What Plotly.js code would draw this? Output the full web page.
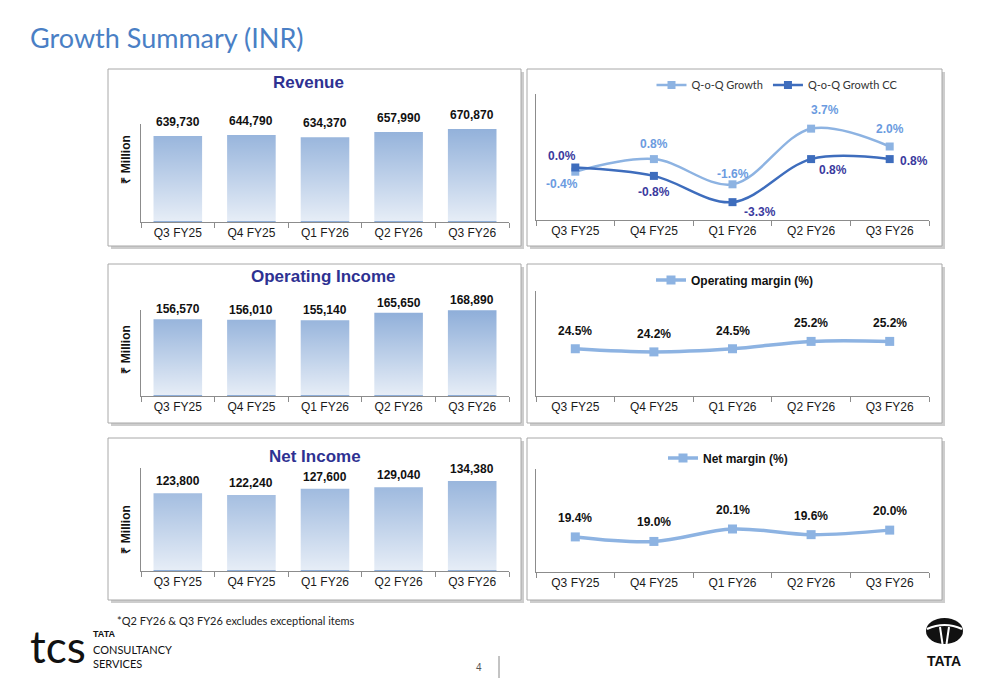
<!DOCTYPE html>
<html><head><meta charset="utf-8">
<script src="https://cdn.plot.ly/plotly-3.0.1.min.js"></script>
<style>html,body{margin:0;padding:0;background:#fff}#chart{width:1000px;height:685px}</style>
</head><body><div id="chart"></div>
<script>
// ---- data ----
const quarters = ['Q3 FY25','Q4 FY25','Q1 FY26','Q2 FY26','Q3 FY26'];
const revenue = [639730, 644790, 634370, 657990, 670870];
const operatingIncome = [156570, 156010, 155140, 165650, 168890];
const netIncome = [123800, 122240, 127600, 129040, 134380];
const qoqGrowth = [-0.4, 0.8, -1.6, 3.7, 2.0];
const qoqGrowthCC = [0.0, -0.8, -3.3, 0.8, 0.8];
const operatingMargin = [24.5, 24.2, 24.5, 25.2, 25.2];
const netMargin = [19.4, 19.0, 20.1, 19.6, 20.0];

// ---- helpers (pixel -> paper) ----
const W = 1000, H = 685;
const px = x => x / W;
const py = y => 1 - y / H;
const ARIAL = 'Liberation Sans, Arial, sans-serif';
const CAL = 'Lato, Open Sans, sans-serif';
const BAR = '#8eaed9', LIGHT = '#8db3e2', DARK = '#3e6dbd';
const LIGHTTXT = '#6b9be0', DARKTXT = '#3a3a9e', TITLE = '#2e3192';

const xL = [px(141), px(509)], xR = [px(536), px(929)];

function xax(domain, anchor) {
  return {domain, anchor, type: 'category', range: [-0.5, quarters.length - 0.5], autorange: false,
    showline: true, linecolor: '#8c8c8c', linewidth: 1,
    ticks: 'outside', tickson: 'boundaries', ticklen: 5, tickcolor: '#8c8c8c',
    showgrid: false, zeroline: false, fixedrange: true,
    tickfont: {family: ARIAL, size: 12, color: '#1a1a1a'}};
}
function yax(domain, anchor, range) {
  return {domain, anchor, range, showline: true, linecolor: '#8c8c8c', linewidth: 1,
    showticklabels: false, ticks: '', showgrid: false, zeroline: false, fixedrange: true};
}

const traces = [
  {type: 'bar', x: quarters, y: revenue, xaxis: 'x', yaxis: 'y', marker: {color: BAR}, showlegend: false, hoverinfo: 'skip'},
  {type: 'scatter', mode: 'lines+markers', name: 'Q-o-Q Growth', x: quarters, y: qoqGrowth, xaxis: 'x2', yaxis: 'y2',
   line: {color: LIGHT, width: 2.5, shape: 'spline', smoothing: 1}, marker: {symbol: 'square', size: 8, color: LIGHT},
   legend: 'legend', cliponaxis: false},
  {type: 'scatter', mode: 'lines+markers', name: 'Q-o-Q Growth CC', x: quarters, y: qoqGrowthCC, xaxis: 'x2', yaxis: 'y2',
   line: {color: DARK, width: 2.5, shape: 'spline', smoothing: 1}, marker: {symbol: 'square', size: 8, color: DARK},
   legend: 'legend', cliponaxis: false},
  {type: 'bar', x: quarters, y: operatingIncome, xaxis: 'x3', yaxis: 'y3', marker: {color: BAR}, showlegend: false, hoverinfo: 'skip'},
  {type: 'scatter', mode: 'lines+markers', name: 'Operating margin (%)', x: quarters, y: operatingMargin, xaxis: 'x4', yaxis: 'y4',
   line: {color: LIGHT, width: 3.5, shape: 'spline', smoothing: 1}, marker: {symbol: 'square', size: 9, color: LIGHT},
   legend: 'legend2', cliponaxis: false},
  {type: 'bar', x: quarters, y: netIncome, xaxis: 'x5', yaxis: 'y5', marker: {color: BAR}, showlegend: false, hoverinfo: 'skip'},
  {type: 'scatter', mode: 'lines+markers', name: 'Net margin (%)', x: quarters, y: netMargin, xaxis: 'x6', yaxis: 'y6',
   line: {color: LIGHT, width: 3.5, shape: 'spline', smoothing: 1}, marker: {symbol: 'square', size: 9, color: LIGHT},
   legend: 'legend3', cliponaxis: false}
];

// ---- annotations ----
const ann = [];
const fmt = v => v.toLocaleString('en-US');
// page title
ann.push({xref: 'paper', yref: 'paper', x: px(28), y: py(38), xanchor: 'left', yanchor: 'middle', showarrow: false,
  text: 'Growth Summary (INR)', font: {family: CAL, size: 27, color: '#4a7fc5'}});
// panel titles
[['Revenue', 308, 83], ['Operating Income', 323, 277], ['Net Income', 315, 456]].forEach(t => ann.push({
  xref: 'paper', yref: 'paper', x: px(t[1]), y: py(t[2]), xanchor: 'center', yanchor: 'middle', showarrow: false,
  text: t[0], font: {family: ARIAL, size: 17, color: TITLE, weight: 'bold'}}));
// y-axis titles
[160, 350, 530].forEach(c => ann.push({xref: 'paper', yref: 'paper', x: px(125.5), y: py(c), xanchor: 'center', yanchor: 'middle',
  showarrow: false, textangle: -90, text: '₹ Million', font: {family: ARIAL, size: 12, color: '#111', weight: 'bold'}}));
// bar value labels
[[revenue, 'x', 'y', 14], [operatingIncome, 'x3', 'y3', 10], [netIncome, 'x5', 'y5', 12]].forEach(s =>
  s[0].forEach((v, i) => ann.push({xref: s[1], yref: s[2], x: quarters[i], y: v, showarrow: false, yshift: s[3],
    text: fmt(v), font: {family: ARIAL, size: 12, color: '#111', weight: 'bold'}})));
// Q-o-Q labels
const lightOff = [[-13, -12], [0, 15], [0, 10], [14, 19], [0, 18]];
const darkOff = [[-13, 12], [0, -16], [27, -10], [22, -11], [24, -2]];
qoqGrowth.forEach((v, i) => ann.push({xref: 'x2', yref: 'y2', x: quarters[i], y: v, showarrow: false,
  xshift: lightOff[i][0], yshift: lightOff[i][1], text: v.toFixed(1) + '%',
  font: {family: ARIAL, size: 12, color: LIGHTTXT, weight: 'bold'}}));
qoqGrowthCC.forEach((v, i) => ann.push({xref: 'x2', yref: 'y2', x: quarters[i], y: v, showarrow: false,
  xshift: darkOff[i][0], yshift: darkOff[i][1], text: v.toFixed(1) + '%',
  font: {family: ARIAL, size: 12, color: DARKTXT, weight: 'bold'}}));
operatingMargin.forEach((v, i) => ann.push({xref: 'x4', yref: 'y4', x: quarters[i], y: v, showarrow: false,
  yshift: 18, text: v.toFixed(1) + '%', font: {family: ARIAL, size: 12, color: '#111', weight: 'bold'}}));
netMargin.forEach((v, i) => ann.push({xref: 'x6', yref: 'y6', x: quarters[i], y: v, showarrow: false,
  yshift: 19, text: v.toFixed(1) + '%', font: {family: ARIAL, size: 12, color: '#111', weight: 'bold'}}));
// footnote & logos
ann.push({xref: 'paper', yref: 'paper', x: px(115), y: py(620), xanchor: 'left', yanchor: 'middle', showarrow: false,
  text: '*Q2 FY26 &amp; Q3 FY26 excludes exceptional items', font: {family: CAL, size: 11, color: '#222'}});
ann.push({xref: 'paper', yref: 'paper', x: px(28), y: py(646), xanchor: 'left', yanchor: 'middle', showarrow: false,
  text: 'tcs', font: {family: CAL, size: 44, color: '#111'}});
ann.push({xref: 'paper', yref: 'paper', x: px(91), y: py(634), xanchor: 'left', yanchor: 'middle', showarrow: false,
  text: 'TATA', font: {family: ARIAL, size: 9, color: '#111', weight: 'bold'}});
ann.push({xref: 'paper', yref: 'paper', x: px(91), y: py(649), xanchor: 'left', yanchor: 'middle', showarrow: false,
  text: 'CONSULTANCY', font: {family: CAL, size: 11, color: '#111'}});
ann.push({xref: 'paper', yref: 'paper', x: px(91), y: py(663), xanchor: 'left', yanchor: 'middle', showarrow: false,
  text: 'SERVICES', font: {family: CAL, size: 11, color: '#111'}});
ann.push({xref: 'paper', yref: 'paper', x: px(944), y: py(661), xanchor: 'center', yanchor: 'middle', showarrow: false,
  text: 'TATA', font: {family: ARIAL, size: 14, color: '#111', weight: 'bold'}});
ann.push({xref: 'paper', yref: 'paper', x: px(479), y: py(667), xanchor: 'center', yanchor: 'middle', showarrow: false,
  text: '4', font: {family: ARIAL, size: 10, color: '#555'}});

// ---- panel boxes ----
const shapes = [];
[[108, 69, 521, 246], [527, 69, 942, 246], [108, 264, 521, 423], [527, 264, 942, 423], [108, 438, 521, 600], [527, 438, 942, 600]]
  .forEach(b => {
    shapes.push({type: 'rect', xref: 'paper', yref: 'paper', x0: px(b[0] + 3), x1: px(b[2] + 3), y0: py(b[3] + 3), y1: py(b[1] + 3),
      line: {width: 0}, fillcolor: '#cdcdcd', layer: 'below'});
    shapes.push({type: 'rect', xref: 'paper', yref: 'paper', x0: px(b[0]), x1: px(b[2]), y0: py(b[3]), y1: py(b[1]),
      line: {width: 1, color: '#a8a8a8'}, fillcolor: '#ffffff', layer: 'below'});
  });
// page-number divider
shapes.push({type: 'line', xref: 'paper', yref: 'paper', x0: px(499), x1: px(499), y0: py(656), y1: py(678), line: {color: '#888', width: 1}});
// Tata emblem
shapes.push({type: 'circle', xref: 'paper', yref: 'paper', x0: px(926), x1: px(963), y0: py(644), y1: py(618), fillcolor: '#111', line: {width: 0}});
shapes.push({type: 'path', xref: 'paper', yref: 'paper', path: `M ${px(927)} ${py(629)} Q ${px(944.5)} ${py(621)} ${px(962)} ${py(629)}`, line: {color: '#fff', width: 2}});
shapes.push({type: 'line', xref: 'paper', yref: 'paper', x0: px(940), x1: px(942.5), y0: py(627), y1: py(644), line: {color: '#fff', width: 2}});
shapes.push({type: 'line', xref: 'paper', yref: 'paper', x0: px(949), x1: px(946.5), y0: py(627), y1: py(644), line: {color: '#fff', width: 2}});

// ---- gradient overlay for bars ----
const grad = 'data:image/svg+xml;utf8,' + encodeURIComponent(
  "<svg xmlns='http://www.w3.org/2000/svg' width='100' height='100' viewBox='0 0 100 100' preserveAspectRatio='none'>" +
  "<defs><linearGradient id='g' x1='0' y1='0' x2='0' y2='1'><stop offset='0' stop-color='#fff' stop-opacity='0'/>" +
  "<stop offset='1' stop-color='#fff' stop-opacity='0.78'/></linearGradient></defs>" +
  "<rect width='100' height='100' fill='url(#g)'/></svg>");
const images = [[124, 221], [310, 395], [468, 570]].map(r => ({
  source: grad, xref: 'paper', yref: 'paper', x: px(142), y: py(r[0]), sizex: px(508) - px(142), sizey: (r[1] - r[0]) / H,
  xanchor: 'left', yanchor: 'top', sizing: 'stretch', layer: 'above'}));

const legendBase = {orientation: 'h', xanchor: 'center', yanchor: 'middle', bgcolor: 'rgba(0,0,0,0)', borderwidth: 0,
  itemclick: false, itemdoubleclick: false};

const layout = {
  width: W, height: H, margin: {l: 0, r: 0, t: 0, b: 0}, paper_bgcolor: '#fff', plot_bgcolor: 'rgba(0,0,0,0)',
  bargap: 0.34, showlegend: true, hovermode: false,
  xaxis: xax(xL, 'y'), yaxis: yax([py(222), py(124)], 'x', [261900, 693000]),
  xaxis2: xax(xR, 'y2'), yaxis2: yax([py(220), py(94)], 'x2', [-5, 7]),
  xaxis3: xax(xL, 'y3'), yaxis3: yax([py(396), py(310)], 'x3', [51000, 169400]),
  xaxis4: xax(xR, 'y4'), yaxis4: yax([py(396), py(291)], 'x4', [20, 30]),
  xaxis5: xax(xL, 'y5'), yaxis5: yax([py(571), py(468)], 'x5', [56300, 145650]),
  xaxis6: xax(xR, 'y6'), yaxis6: yax([py(572), py(469)], 'x6', [16.3, 25.4]),
  legend: Object.assign({}, legendBase, {x: px(777), y: py(85), font: {family: CAL, size: 11, color: '#333'}}),
  legend2: Object.assign({}, legendBase, {x: px(735), y: py(280), font: {family: ARIAL, size: 12, color: '#111', weight: 'bold'}}),
  legend3: Object.assign({}, legendBase, {x: px(728), y: py(458), font: {family: ARIAL, size: 12, color: '#111', weight: 'bold'}}),
  annotations: ann, shapes, images
};

Plotly.newPlot('chart', traces, layout, {staticPlot: true, displayModeBar: false});
</script></body></html>
